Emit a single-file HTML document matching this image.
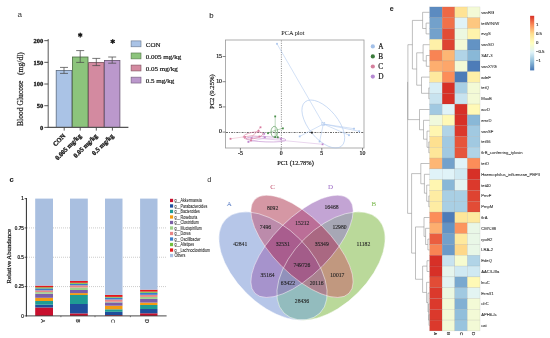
<!DOCTYPE html>
<html><head><meta charset="utf-8"><style>
html,body{margin:0;padding:0;background:#fff;}
svg{display:block;will-change:transform;}
</style></head><body>
<svg width="550" height="338" viewBox="0 0 550 338">
<defs><clipPath id="cpA"><ellipse cx="273.0" cy="266.0" rx="66.5" ry="38.0" transform="rotate(45 273.0 266.0)"  /></clipPath><clipPath id="cpB"><ellipse cx="331.0" cy="266.0" rx="66.5" ry="38.0" transform="rotate(-45 331.0 266.0)"  /></clipPath><clipPath id="cpC"><ellipse cx="302.0" cy="246.3" rx="66.5" ry="28.5" transform="rotate(45 302.0 246.3)"  /></clipPath><clipPath id="cpD"><ellipse cx="302.0" cy="246.3" rx="66.5" ry="28.5" transform="rotate(-45 302.0 246.3)"  /></clipPath></defs>
<rect width="550" height="338" fill="#fff"/>
<text x="17.60" y="17.30" font-family='"Liberation Sans", sans-serif' font-size="8" text-anchor="start" font-weight="normal" fill="#333" >a</text>
<rect x="56.20" y="70.40" width="15.60" height="57.00" fill="#aac3e6" stroke="#5d6b7e" stroke-width="0.8"/>
<rect x="72.40" y="57.00" width="15.60" height="70.40" fill="#8cc47c" stroke="#4d6b44" stroke-width="0.8"/>
<rect x="88.60" y="62.60" width="15.40" height="64.80" fill="#d38aa0" stroke="#744b58" stroke-width="0.8"/>
<rect x="104.50" y="60.40" width="15.40" height="67.00" fill="#bb98cc" stroke="#665370" stroke-width="0.8"/>
<line x1="64.00" y1="67.40" x2="64.00" y2="73.40" stroke="#4a4a4a" stroke-width="0.75" />
<line x1="60.00" y1="67.40" x2="68.00" y2="67.40" stroke="#4a4a4a" stroke-width="0.75" />
<line x1="60.00" y1="73.40" x2="68.00" y2="73.40" stroke="#4a4a4a" stroke-width="0.75" />
<line x1="80.20" y1="50.60" x2="80.20" y2="62.40" stroke="#4a4a4a" stroke-width="0.75" />
<line x1="76.20" y1="50.60" x2="84.20" y2="50.60" stroke="#4a4a4a" stroke-width="0.75" />
<line x1="76.20" y1="62.40" x2="84.20" y2="62.40" stroke="#4a4a4a" stroke-width="0.75" />
<line x1="96.30" y1="58.40" x2="96.30" y2="65.60" stroke="#4a4a4a" stroke-width="0.75" />
<line x1="92.30" y1="58.40" x2="100.30" y2="58.40" stroke="#4a4a4a" stroke-width="0.75" />
<line x1="92.30" y1="65.60" x2="100.30" y2="65.60" stroke="#4a4a4a" stroke-width="0.75" />
<line x1="112.20" y1="57.00" x2="112.20" y2="63.20" stroke="#4a4a4a" stroke-width="0.75" />
<line x1="108.20" y1="57.00" x2="116.20" y2="57.00" stroke="#4a4a4a" stroke-width="0.75" />
<line x1="108.20" y1="63.20" x2="116.20" y2="63.20" stroke="#4a4a4a" stroke-width="0.75" />
<line x1="48.20" y1="39.00" x2="48.20" y2="127.90" stroke="#666" stroke-width="1.1" />
<line x1="47.70" y1="127.40" x2="128.40" y2="127.40" stroke="#555" stroke-width="1.1" />
<line x1="44.30" y1="127.40" x2="48.20" y2="127.40" stroke="#444" stroke-width="0.9" />
<text x="43.30" y="129.60" font-family='"Liberation Serif", serif' font-size="6.5" text-anchor="end" font-weight="bold" fill="#1a1a1a" stroke="#1a1a1a" stroke-width="0.3" >0</text>
<line x1="44.30" y1="105.71" x2="48.20" y2="105.71" stroke="#444" stroke-width="0.9" />
<text x="43.30" y="107.91" font-family='"Liberation Serif", serif' font-size="6.5" text-anchor="end" font-weight="bold" fill="#1a1a1a" stroke="#1a1a1a" stroke-width="0.3" >50</text>
<line x1="44.30" y1="84.03" x2="48.20" y2="84.03" stroke="#444" stroke-width="0.9" />
<text x="43.30" y="86.23" font-family='"Liberation Serif", serif' font-size="6.5" text-anchor="end" font-weight="bold" fill="#1a1a1a" stroke="#1a1a1a" stroke-width="0.3" >100</text>
<line x1="44.30" y1="62.34" x2="48.20" y2="62.34" stroke="#444" stroke-width="0.9" />
<text x="43.30" y="64.54" font-family='"Liberation Serif", serif' font-size="6.5" text-anchor="end" font-weight="bold" fill="#1a1a1a" stroke="#1a1a1a" stroke-width="0.3" >150</text>
<line x1="44.30" y1="40.65" x2="48.20" y2="40.65" stroke="#444" stroke-width="0.9" />
<text x="43.30" y="42.85" font-family='"Liberation Serif", serif' font-size="6.5" text-anchor="end" font-weight="bold" fill="#1a1a1a" stroke="#1a1a1a" stroke-width="0.3" >200</text>
<line x1="64.20" y1="127.40" x2="64.20" y2="130.60" stroke="#444" stroke-width="0.9" />
<line x1="80.20" y1="127.40" x2="80.20" y2="130.60" stroke="#444" stroke-width="0.9" />
<line x1="96.30" y1="127.40" x2="96.30" y2="130.60" stroke="#444" stroke-width="0.9" />
<line x1="112.40" y1="127.40" x2="112.40" y2="130.60" stroke="#444" stroke-width="0.9" />
<text x="65.80" y="136.40" font-family='"Liberation Serif", serif' font-size="6.6" text-anchor="end" font-weight="bold" fill="#1a1a1a" stroke="#1a1a1a" stroke-width="0.3" transform="rotate(-45 65.8 136.4)" >CON</text>
<text x="81.80" y="136.40" font-family='"Liberation Serif", serif' font-size="6.6" text-anchor="end" font-weight="bold" fill="#1a1a1a" stroke="#1a1a1a" stroke-width="0.3" transform="rotate(-45 81.8 136.4)" >0.005 mg/kg</text>
<text x="97.90" y="136.40" font-family='"Liberation Serif", serif' font-size="6.6" text-anchor="end" font-weight="bold" fill="#1a1a1a" stroke="#1a1a1a" stroke-width="0.3" transform="rotate(-45 97.89999999999999 136.4)" >0.05 mg/kg</text>
<text x="114.00" y="136.40" font-family='"Liberation Serif", serif' font-size="6.6" text-anchor="end" font-weight="bold" fill="#1a1a1a" stroke="#1a1a1a" stroke-width="0.3" transform="rotate(-45 114.0 136.4)" >0.5 mg/kg</text>
<line x1="80.20" y1="33.20" x2="80.20" y2="37.00" stroke="#151515" stroke-width="1.25" stroke-linecap="round"/>
<line x1="78.55" y1="34.15" x2="81.85" y2="36.05" stroke="#151515" stroke-width="1.25" stroke-linecap="round"/>
<line x1="81.85" y1="34.15" x2="78.55" y2="36.05" stroke="#151515" stroke-width="1.25" stroke-linecap="round"/>
<line x1="112.70" y1="39.50" x2="112.70" y2="43.30" stroke="#151515" stroke-width="1.25" stroke-linecap="round"/>
<line x1="111.05" y1="40.45" x2="114.35" y2="42.35" stroke="#151515" stroke-width="1.25" stroke-linecap="round"/>
<line x1="114.35" y1="40.45" x2="111.05" y2="42.35" stroke="#151515" stroke-width="1.25" stroke-linecap="round"/>
<text x="23.30" y="89.10" font-family='"Liberation Serif", serif' font-size="7.6" text-anchor="middle" font-weight="normal" fill="#222" stroke="#222" stroke-width="0.22" transform="rotate(-90 23.3 89.1)" >Blood Glucose&#160;&#160;&#160;(mg/dl)</text>
<rect x="131.10" y="40.90" width="9.90" height="5.90" fill="#aac3e6" stroke="#66758a" stroke-width="0.6"/>
<text x="145.80" y="46.70" font-family='"Liberation Serif", serif' font-size="7.0" text-anchor="start" font-weight="normal" fill="#222" stroke="#222" stroke-width="0.22" >CON</text>
<rect x="131.10" y="52.98" width="9.90" height="5.90" fill="#8cc47c" stroke="#54754a" stroke-width="0.6"/>
<text x="145.80" y="58.78" font-family='"Liberation Serif", serif' font-size="7.0" text-anchor="start" font-weight="normal" fill="#222" stroke="#222" stroke-width="0.22" >0.005 mg/kg</text>
<rect x="131.10" y="65.06" width="9.90" height="5.90" fill="#d38aa0" stroke="#7e5260" stroke-width="0.6"/>
<text x="145.80" y="70.86" font-family='"Liberation Serif", serif' font-size="7.0" text-anchor="start" font-weight="normal" fill="#222" stroke="#222" stroke-width="0.22" >0.05 mg/kg</text>
<rect x="131.10" y="77.14" width="9.90" height="5.90" fill="#bb98cc" stroke="#705b7a" stroke-width="0.6"/>
<text x="145.80" y="82.94" font-family='"Liberation Serif", serif' font-size="7.0" text-anchor="start" font-weight="normal" fill="#222" stroke="#222" stroke-width="0.22" >0.5 mg/kg</text>
<text x="209.30" y="17.50" font-family='"Liberation Sans", sans-serif' font-size="7.8" text-anchor="start" font-weight="normal" fill="#222" stroke="#222" stroke-width="0.1" >b</text>
<rect x="225.5" y="40" width="138.5" height="108" fill="none" stroke="#999" stroke-width="0.8"/>
<text x="281.20" y="35.20" font-family='"Liberation Serif", serif' font-size="6.3" text-anchor="start" font-weight="normal" fill="#222" stroke="#222" stroke-width="0.05" >PCA plot</text>
<line x1="222.60" y1="132.10" x2="225.50" y2="132.10" stroke="#555" stroke-width="0.7" />
<text x="222.00" y="133.40" font-family='"Liberation Serif", serif' font-size="5.8" text-anchor="end" font-weight="normal" fill="#222" stroke="#222" stroke-width="0.22" >0</text>
<line x1="222.60" y1="106.90" x2="225.50" y2="106.90" stroke="#555" stroke-width="0.7" />
<text x="222.00" y="108.20" font-family='"Liberation Serif", serif' font-size="5.8" text-anchor="end" font-weight="normal" fill="#222" stroke="#222" stroke-width="0.22" >5</text>
<line x1="222.60" y1="81.70" x2="225.50" y2="81.70" stroke="#555" stroke-width="0.7" />
<text x="222.00" y="83.00" font-family='"Liberation Serif", serif' font-size="5.8" text-anchor="end" font-weight="normal" fill="#222" stroke="#222" stroke-width="0.22" >10</text>
<line x1="222.60" y1="56.50" x2="225.50" y2="56.50" stroke="#555" stroke-width="0.7" />
<text x="222.00" y="57.80" font-family='"Liberation Serif", serif' font-size="5.8" text-anchor="end" font-weight="normal" fill="#222" stroke="#222" stroke-width="0.22" >15</text>
<line x1="240.40" y1="148.00" x2="240.40" y2="150.60" stroke="#555" stroke-width="0.7" />
<text x="240.40" y="154.50" font-family='"Liberation Serif", serif' font-size="5.8" text-anchor="middle" font-weight="normal" fill="#222" stroke="#222" stroke-width="0.22" >-5</text>
<line x1="281.10" y1="148.00" x2="281.10" y2="150.60" stroke="#555" stroke-width="0.7" />
<text x="281.10" y="154.50" font-family='"Liberation Serif", serif' font-size="5.8" text-anchor="middle" font-weight="normal" fill="#222" stroke="#222" stroke-width="0.22" >0</text>
<line x1="321.80" y1="148.00" x2="321.80" y2="150.60" stroke="#555" stroke-width="0.7" />
<text x="321.80" y="154.50" font-family='"Liberation Serif", serif' font-size="5.8" text-anchor="middle" font-weight="normal" fill="#222" stroke="#222" stroke-width="0.22" >5</text>
<line x1="362.50" y1="148.00" x2="362.50" y2="150.60" stroke="#555" stroke-width="0.7" />
<text x="362.50" y="154.50" font-family='"Liberation Serif", serif' font-size="5.8" text-anchor="middle" font-weight="normal" fill="#222" stroke="#222" stroke-width="0.22" >10</text>
<text x="295.50" y="165.00" font-family='"Liberation Serif", serif' font-size="6.4" text-anchor="middle" font-weight="normal" fill="#222" stroke="#222" stroke-width="0.22" >PC1 (12.78%)</text>
<text x="214.40" y="91.60" font-family='"Liberation Serif", serif' font-size="6.7" text-anchor="middle" font-weight="normal" fill="#222" stroke="#222" stroke-width="0.22" transform="rotate(-90 214.4 91.6)" >PC2 (9.25%)</text>
<line x1="226.00" y1="132.50" x2="363.50" y2="132.50" stroke="#444" stroke-width="0.8" stroke-dasharray="2,1,1,1.2"/>
<line x1="281.40" y1="40.50" x2="281.40" y2="147.50" stroke="#666" stroke-width="0.75" stroke-dasharray="1,1.3"/>
<line x1="323.30" y1="124.00" x2="277.00" y2="43.80" stroke="#aec8ee" stroke-width="0.55" />
<line x1="323.30" y1="124.00" x2="354.00" y2="128.70" stroke="#aec8ee" stroke-width="0.55" />
<line x1="323.30" y1="124.00" x2="359.20" y2="131.30" stroke="#aec8ee" stroke-width="0.55" />
<line x1="323.30" y1="124.00" x2="349.00" y2="135.20" stroke="#aec8ee" stroke-width="0.55" />
<line x1="323.30" y1="124.00" x2="299.70" y2="136.40" stroke="#aec8ee" stroke-width="0.55" />
<line x1="323.30" y1="124.00" x2="319.60" y2="141.50" stroke="#aec8ee" stroke-width="0.55" />
<ellipse cx="323.3" cy="124.0" rx="28.65" ry="14.6" transform="rotate(50.6 323.3 124.0)" fill="none" stroke="#aec8ee" stroke-width="0.6"/>
<rect x="276.1" y="42.9" width="1.8" height="1.8" fill="#aec8ee"/>
<rect x="353.1" y="127.79999999999998" width="1.8" height="1.8" fill="#aec8ee"/>
<rect x="358.3" y="130.4" width="1.8" height="1.8" fill="#aec8ee"/>
<rect x="348.1" y="134.29999999999998" width="1.8" height="1.8" fill="#aec8ee"/>
<rect x="298.8" y="135.5" width="1.8" height="1.8" fill="#aec8ee"/>
<rect x="318.70000000000005" y="140.6" width="1.8" height="1.8" fill="#aec8ee"/>
<rect x="321.8" y="122.5" width="3" height="3" fill="none" stroke="#aec8ee" stroke-width="0.5"/>
<rect x="311" y="131.7" width="1.8" height="1.8" fill="#222"/>
<line x1="263.00" y1="138.60" x2="248.40" y2="141.90" stroke="#cfa6da" stroke-width="0.45" />
<line x1="263.00" y1="138.60" x2="251.50" y2="138.00" stroke="#cfa6da" stroke-width="0.45" />
<line x1="263.00" y1="138.60" x2="264.90" y2="137.30" stroke="#cfa6da" stroke-width="0.45" />
<line x1="263.00" y1="138.60" x2="264.20" y2="133.80" stroke="#cfa6da" stroke-width="0.45" />
<line x1="263.00" y1="138.60" x2="322.60" y2="144.30" stroke="#cfa6da" stroke-width="0.45" />
<line x1="263.00" y1="138.60" x2="281.00" y2="139.00" stroke="#cfa6da" stroke-width="0.45" />
<ellipse cx="266" cy="139.3" rx="20" ry="2.6" transform="rotate(2 266 139.3)" fill="none" stroke="#bf86cc" stroke-width="0.6"/>
<rect x="247.5" y="141.0" width="1.8" height="1.8" fill="#bf86cc"/>
<rect x="250.6" y="137.1" width="1.8" height="1.8" fill="#bf86cc"/>
<rect x="264.0" y="136.4" width="1.8" height="1.8" fill="#bf86cc"/>
<rect x="263.3" y="132.9" width="1.8" height="1.8" fill="#bf86cc"/>
<rect x="321.70000000000005" y="143.4" width="1.8" height="1.8" fill="#bf86cc"/>
<rect x="280.1" y="138.1" width="1.8" height="1.8" fill="#bf86cc"/>
<line x1="253.00" y1="135.50" x2="230.50" y2="138.80" stroke="#e4a0b8" stroke-width="0.45" />
<line x1="253.00" y1="135.50" x2="260.50" y2="127.30" stroke="#e4a0b8" stroke-width="0.45" />
<line x1="253.00" y1="135.50" x2="258.60" y2="130.80" stroke="#e4a0b8" stroke-width="0.45" />
<line x1="253.00" y1="135.50" x2="251.00" y2="140.40" stroke="#e4a0b8" stroke-width="0.45" />
<line x1="253.00" y1="135.50" x2="259.50" y2="136.50" stroke="#e4a0b8" stroke-width="0.45" />
<line x1="253.00" y1="135.50" x2="245.00" y2="137.00" stroke="#e4a0b8" stroke-width="0.45" />
<ellipse cx="253" cy="135.5" rx="10" ry="3.2" transform="rotate(-10 253 135.5)" fill="none" stroke="#d8779d" stroke-width="0.6"/>
<rect x="229.6" y="137.9" width="1.8" height="1.8" fill="#d8779d"/>
<rect x="259.6" y="126.39999999999999" width="1.8" height="1.8" fill="#d8779d"/>
<rect x="257.70000000000005" y="129.9" width="1.8" height="1.8" fill="#d8779d"/>
<rect x="250.1" y="139.5" width="1.8" height="1.8" fill="#d8779d"/>
<rect x="258.6" y="135.6" width="1.8" height="1.8" fill="#d8779d"/>
<rect x="244.1" y="136.1" width="1.8" height="1.8" fill="#d8779d"/>
<line x1="275.20" y1="130.30" x2="275.20" y2="116.40" stroke="#6aa86a" stroke-width="0.45" />
<line x1="275.20" y1="130.30" x2="282.90" y2="128.40" stroke="#6aa86a" stroke-width="0.45" />
<line x1="275.20" y1="130.30" x2="268.00" y2="133.20" stroke="#6aa86a" stroke-width="0.45" />
<line x1="275.20" y1="130.30" x2="275.20" y2="137.10" stroke="#6aa86a" stroke-width="0.45" />
<line x1="275.20" y1="130.30" x2="277.80" y2="137.30" stroke="#6aa86a" stroke-width="0.45" />
<ellipse cx="274.3" cy="131.8" rx="3.3" ry="5.4" fill="none" stroke="#4a8f4a" stroke-width="0.6"/>
<rect x="274.3" y="115.5" width="1.8" height="1.8" fill="#4a8f4a"/>
<rect x="282.0" y="127.5" width="1.8" height="1.8" fill="#4a8f4a"/>
<rect x="267.1" y="132.29999999999998" width="1.8" height="1.8" fill="#4a8f4a"/>
<rect x="274.3" y="136.2" width="1.8" height="1.8" fill="#4a8f4a"/>
<rect x="276.90000000000003" y="136.4" width="1.8" height="1.8" fill="#4a8f4a"/>
<circle cx="372.8" cy="46.40" r="2.1" fill="#a3c0e8"/>
<text x="378.20" y="49.00" font-family='"Liberation Serif", serif' font-size="7.3" text-anchor="start" font-weight="normal" fill="#222" stroke="#222" stroke-width="0.22" >A</text>
<circle cx="372.8" cy="56.45" r="2.1" fill="#3b7a3b"/>
<text x="378.20" y="59.05" font-family='"Liberation Serif", serif' font-size="7.3" text-anchor="start" font-weight="normal" fill="#222" stroke="#222" stroke-width="0.22" >B</text>
<circle cx="372.8" cy="66.50" r="2.1" fill="#d47f9c"/>
<text x="378.20" y="69.10" font-family='"Liberation Serif", serif' font-size="7.3" text-anchor="start" font-weight="normal" fill="#222" stroke="#222" stroke-width="0.22" >C</text>
<circle cx="372.8" cy="76.55" r="2.1" fill="#b68ad2"/>
<text x="378.20" y="79.15" font-family='"Liberation Serif", serif' font-size="7.3" text-anchor="start" font-weight="normal" fill="#222" stroke="#222" stroke-width="0.22" >D</text>
<text x="9.60" y="181.90" font-family='"Liberation Sans", sans-serif' font-size="7.5" text-anchor="start" font-weight="bold" fill="#222" stroke="#222" stroke-width="0.1" >c</text>
<line x1="27.00" y1="286.57" x2="166.60" y2="286.57" stroke="#aaa" stroke-width="0.6" stroke-dasharray="1,1"/>
<line x1="27.00" y1="257.25" x2="166.60" y2="257.25" stroke="#aaa" stroke-width="0.6" stroke-dasharray="1,1"/>
<line x1="27.00" y1="227.92" x2="166.60" y2="227.92" stroke="#aaa" stroke-width="0.6" stroke-dasharray="1,1"/>
<rect x="35.20" y="307.50" width="17.80" height="8.40" fill="#c8102e" />
<rect x="35.20" y="304.70" width="17.80" height="2.80" fill="#1f4e9c" />
<rect x="35.20" y="301.00" width="17.80" height="3.70" fill="#1f9c94" />
<rect x="35.20" y="297.80" width="17.80" height="3.20" fill="#f39c12" />
<rect x="35.20" y="293.70" width="17.80" height="4.10" fill="#7b5ea7" />
<rect x="35.20" y="292.10" width="17.80" height="1.60" fill="#9fd08a" />
<rect x="35.20" y="290.30" width="17.80" height="1.80" fill="#e98686" />
<rect x="35.20" y="288.40" width="17.80" height="1.90" fill="#3d7cc9" />
<rect x="35.20" y="287.30" width="17.80" height="1.10" fill="#74bf3f" />
<rect x="35.20" y="285.60" width="17.80" height="1.70" fill="#e31a1c" />
<rect x="35.20" y="198.60" width="17.80" height="87.00" fill="#a9bfe0" />
<rect x="70.00" y="313.40" width="17.80" height="2.50" fill="#c8102e" />
<rect x="70.00" y="304.00" width="17.80" height="9.40" fill="#1f4e9c" />
<rect x="70.00" y="295.00" width="17.80" height="9.00" fill="#1f9c94" />
<rect x="70.00" y="293.10" width="17.80" height="1.90" fill="#f39c12" />
<rect x="70.00" y="290.00" width="17.80" height="3.10" fill="#7b5ea7" />
<rect x="70.00" y="287.50" width="17.80" height="2.50" fill="#9fd08a" />
<rect x="70.00" y="285.30" width="17.80" height="2.20" fill="#e98686" />
<rect x="70.00" y="283.80" width="17.80" height="1.50" fill="#3d7cc9" />
<rect x="70.00" y="282.80" width="17.80" height="1.00" fill="#74bf3f" />
<rect x="70.00" y="281.00" width="17.80" height="1.80" fill="#e31a1c" />
<rect x="70.00" y="198.60" width="17.80" height="82.40" fill="#a9bfe0" />
<rect x="105.00" y="315.10" width="17.50" height="0.80" fill="#c8102e" />
<rect x="105.00" y="311.80" width="17.50" height="3.30" fill="#1f4e9c" />
<rect x="105.00" y="309.30" width="17.50" height="2.50" fill="#1f9c94" />
<rect x="105.00" y="305.70" width="17.50" height="3.60" fill="#f39c12" />
<rect x="105.00" y="302.40" width="17.50" height="3.30" fill="#7b5ea7" />
<rect x="105.00" y="301.80" width="17.50" height="0.60" fill="#9fd08a" />
<rect x="105.00" y="299.50" width="17.50" height="2.30" fill="#e98686" />
<rect x="105.00" y="297.60" width="17.50" height="1.90" fill="#3d7cc9" />
<rect x="105.00" y="296.90" width="17.50" height="0.70" fill="#74bf3f" />
<rect x="105.00" y="294.90" width="17.50" height="2.00" fill="#e31a1c" />
<rect x="105.00" y="198.60" width="17.50" height="96.30" fill="#a9bfe0" />
<rect x="140.10" y="313.30" width="17.40" height="2.60" fill="#c8102e" />
<rect x="140.10" y="309.00" width="17.40" height="4.30" fill="#1f4e9c" />
<rect x="140.10" y="305.00" width="17.40" height="4.00" fill="#1f9c94" />
<rect x="140.10" y="302.60" width="17.40" height="2.40" fill="#f39c12" />
<rect x="140.10" y="298.90" width="17.40" height="3.70" fill="#7b5ea7" />
<rect x="140.10" y="296.90" width="17.40" height="2.00" fill="#9fd08a" />
<rect x="140.10" y="294.80" width="17.40" height="2.10" fill="#e98686" />
<rect x="140.10" y="292.80" width="17.40" height="2.00" fill="#3d7cc9" />
<rect x="140.10" y="291.60" width="17.40" height="1.20" fill="#74bf3f" />
<rect x="140.10" y="289.70" width="17.40" height="1.90" fill="#e31a1c" />
<rect x="140.10" y="198.60" width="17.40" height="91.10" fill="#a9bfe0" />
<line x1="26.40" y1="198.00" x2="26.40" y2="316.40" stroke="#111" stroke-width="0.9" />
<line x1="26.00" y1="315.90" x2="166.60" y2="315.90" stroke="#333" stroke-width="0.9" />
<line x1="24.60" y1="315.90" x2="26.40" y2="315.90" stroke="#111" stroke-width="0.7" />
<text x="23.80" y="317.50" font-family='"Liberation Sans", sans-serif' font-size="4.6" text-anchor="end" font-weight="normal" fill="#111" stroke="#111" stroke-width="0.2" >0</text>
<line x1="24.60" y1="286.57" x2="26.40" y2="286.57" stroke="#111" stroke-width="0.7" />
<text x="23.80" y="288.18" font-family='"Liberation Sans", sans-serif' font-size="4.6" text-anchor="end" font-weight="normal" fill="#111" stroke="#111" stroke-width="0.2" >0.25</text>
<line x1="24.60" y1="257.25" x2="26.40" y2="257.25" stroke="#111" stroke-width="0.7" />
<text x="23.80" y="258.85" font-family='"Liberation Sans", sans-serif' font-size="4.6" text-anchor="end" font-weight="normal" fill="#111" stroke="#111" stroke-width="0.2" >0.5</text>
<line x1="24.60" y1="227.92" x2="26.40" y2="227.92" stroke="#111" stroke-width="0.7" />
<text x="23.80" y="229.52" font-family='"Liberation Sans", sans-serif' font-size="4.6" text-anchor="end" font-weight="normal" fill="#111" stroke="#111" stroke-width="0.2" >0.75</text>
<line x1="24.60" y1="198.60" x2="26.40" y2="198.60" stroke="#111" stroke-width="0.7" />
<text x="23.80" y="200.20" font-family='"Liberation Sans", sans-serif' font-size="4.6" text-anchor="end" font-weight="normal" fill="#111" stroke="#111" stroke-width="0.2" >1</text>
<line x1="60.90" y1="315.90" x2="60.90" y2="317.20" stroke="#333" stroke-width="0.6" />
<line x1="95.00" y1="315.90" x2="95.00" y2="317.20" stroke="#333" stroke-width="0.6" />
<line x1="130.40" y1="315.90" x2="130.40" y2="317.20" stroke="#333" stroke-width="0.6" />
<text x="41.30" y="321.00" font-family='"Liberation Sans", sans-serif' font-size="5.0" text-anchor="middle" font-weight="normal" fill="#222" stroke="#222" stroke-width="0.12" transform="rotate(90 41.3 321.0)" >A</text>
<text x="76.00" y="321.00" font-family='"Liberation Sans", sans-serif' font-size="5.0" text-anchor="middle" font-weight="normal" fill="#222" stroke="#222" stroke-width="0.12" transform="rotate(90 76.0 321.0)" >B</text>
<text x="110.90" y="321.00" font-family='"Liberation Sans", sans-serif' font-size="5.0" text-anchor="middle" font-weight="normal" fill="#222" stroke="#222" stroke-width="0.12" transform="rotate(90 110.9 321.0)" >C</text>
<text x="145.40" y="321.00" font-family='"Liberation Sans", sans-serif' font-size="5.0" text-anchor="middle" font-weight="normal" fill="#222" stroke="#222" stroke-width="0.12" transform="rotate(90 145.4 321.0)" >D</text>
<text x="10.60" y="256.20" font-family='"Liberation Serif", serif' font-size="6.75" text-anchor="middle" font-weight="normal" fill="#222" stroke="#222" stroke-width="0.22" transform="rotate(-90 10.6 256.2)" >Relative Abundance</text>
<rect x="170.00" y="198.80" width="3.10" height="3.30" fill="#c8102e" />
<text x="0.00" y="0.00" font-family='"Liberation Sans", sans-serif' font-size="4.6" text-anchor="start" font-weight="normal" fill="#222" stroke="#222" stroke-width="0.05" transform="translate(174.40 202.00) scale(0.8 1)" >g__Akkermansia</text>
<rect x="170.00" y="204.31" width="3.10" height="3.30" fill="#1f4e9c" />
<text x="0.00" y="0.00" font-family='"Liberation Sans", sans-serif' font-size="4.6" text-anchor="start" font-weight="normal" fill="#222" stroke="#222" stroke-width="0.05" transform="translate(174.40 207.51) scale(0.8 1)" >g__Parabacteroides</text>
<rect x="170.00" y="209.82" width="3.10" height="3.30" fill="#1f9c94" />
<text x="0.00" y="0.00" font-family='"Liberation Sans", sans-serif' font-size="4.6" text-anchor="start" font-weight="normal" fill="#222" stroke="#222" stroke-width="0.05" transform="translate(174.40 213.02) scale(0.8 1)" >g__Bacteroides</text>
<rect x="170.00" y="215.33" width="3.10" height="3.30" fill="#f39c12" />
<text x="0.00" y="0.00" font-family='"Liberation Sans", sans-serif' font-size="4.6" text-anchor="start" font-weight="normal" fill="#222" stroke="#222" stroke-width="0.05" transform="translate(174.40 218.53) scale(0.8 1)" >g__Roseburia</text>
<rect x="170.00" y="220.84" width="3.10" height="3.30" fill="#7b5ea7" />
<text x="0.00" y="0.00" font-family='"Liberation Sans", sans-serif' font-size="4.6" text-anchor="start" font-weight="normal" fill="#222" stroke="#222" stroke-width="0.05" transform="translate(174.40 224.04) scale(0.8 1)" >g__Clostridium</text>
<rect x="170.00" y="226.35" width="3.10" height="3.30" fill="#9fd08a" />
<text x="0.00" y="0.00" font-family='"Liberation Sans", sans-serif' font-size="4.6" text-anchor="start" font-weight="normal" fill="#222" stroke="#222" stroke-width="0.05" transform="translate(174.40 229.55) scale(0.8 1)" >g__Mucispirillum</text>
<rect x="170.00" y="231.86" width="3.10" height="3.30" fill="#e98686" />
<text x="0.00" y="0.00" font-family='"Liberation Sans", sans-serif' font-size="4.6" text-anchor="start" font-weight="normal" fill="#222" stroke="#222" stroke-width="0.05" transform="translate(174.40 235.06) scale(0.8 1)" >g__Dorea</text>
<rect x="170.00" y="237.37" width="3.10" height="3.30" fill="#3d7cc9" />
<text x="0.00" y="0.00" font-family='"Liberation Sans", sans-serif' font-size="4.6" text-anchor="start" font-weight="normal" fill="#222" stroke="#222" stroke-width="0.05" transform="translate(174.40 240.57) scale(0.8 1)" >g__Oscillibacter</text>
<rect x="170.00" y="242.88" width="3.10" height="3.30" fill="#74bf3f" />
<text x="0.00" y="0.00" font-family='"Liberation Sans", sans-serif' font-size="4.6" text-anchor="start" font-weight="normal" fill="#222" stroke="#222" stroke-width="0.05" transform="translate(174.40 246.08) scale(0.8 1)" >g__Alistipes</text>
<rect x="170.00" y="248.39" width="3.10" height="3.30" fill="#e31a1c" />
<text x="0.00" y="0.00" font-family='"Liberation Sans", sans-serif' font-size="4.6" text-anchor="start" font-weight="normal" fill="#222" stroke="#222" stroke-width="0.05" transform="translate(174.40 251.59) scale(0.8 1)" >g__Lachnoclostridium</text>
<rect x="170.00" y="253.90" width="3.10" height="3.30" fill="#a9bfe0" />
<text x="0.00" y="0.00" font-family='"Liberation Sans", sans-serif' font-size="4.6" text-anchor="start" font-weight="normal" fill="#222" stroke="#222" stroke-width="0.05" transform="translate(174.40 257.10) scale(0.8 1)" >Others</text>
<text x="207.20" y="182.00" font-family='"Liberation Sans", sans-serif' font-size="7.5" text-anchor="start" font-weight="normal" fill="#333" >d</text>
<ellipse cx="273.0" cy="266.0" rx="66.5" ry="38.0" transform="rotate(45 273.0 266.0)" fill="#b6c6e8" />
<ellipse cx="331.0" cy="266.0" rx="66.5" ry="38.0" transform="rotate(-45 331.0 266.0)" fill="#bad99a" />
<ellipse cx="302.0" cy="246.3" rx="66.5" ry="28.5" transform="rotate(45 302.0 246.3)" fill="#d597a4" />
<ellipse cx="302.0" cy="246.3" rx="66.5" ry="28.5" transform="rotate(-45 302.0 246.3)" fill="#c3a4d4" />
<g clip-path="url(#cpA)"><ellipse cx="331.0" cy="266.0" rx="66.5" ry="38.0" transform="rotate(-45 331.0 266.0)" fill="#93bcbe" /></g>
<g clip-path="url(#cpA)"><ellipse cx="302.0" cy="246.3" rx="66.5" ry="28.5" transform="rotate(45 302.0 246.3)" fill="#bc8bab" /></g>
<g clip-path="url(#cpA)"><ellipse cx="302.0" cy="246.3" rx="66.5" ry="28.5" transform="rotate(-45 302.0 246.3)" fill="#a693cc" /></g>
<g clip-path="url(#cpB)"><ellipse cx="302.0" cy="246.3" rx="66.5" ry="28.5" transform="rotate(45 302.0 246.3)" fill="#c1987f" /></g>
<g clip-path="url(#cpB)"><ellipse cx="302.0" cy="246.3" rx="66.5" ry="28.5" transform="rotate(-45 302.0 246.3)" fill="#a7a7b5" /></g>
<g clip-path="url(#cpC)"><ellipse cx="302.0" cy="246.3" rx="66.5" ry="28.5" transform="rotate(-45 302.0 246.3)" fill="#bb6e97" /></g>
<g clip-path="url(#cpB)"><g clip-path="url(#cpA)"><ellipse cx="302.0" cy="246.3" rx="66.5" ry="28.5" transform="rotate(45 302.0 246.3)" fill="#aa828f" /></g></g>
<g clip-path="url(#cpB)"><g clip-path="url(#cpA)"><ellipse cx="302.0" cy="246.3" rx="66.5" ry="28.5" transform="rotate(-45 302.0 246.3)" fill="#9191bb" /></g></g>
<g clip-path="url(#cpC)"><g clip-path="url(#cpA)"><ellipse cx="302.0" cy="246.3" rx="66.5" ry="28.5" transform="rotate(-45 302.0 246.3)" fill="#a95d8e" /></g></g>
<g clip-path="url(#cpC)"><g clip-path="url(#cpB)"><ellipse cx="302.0" cy="246.3" rx="66.5" ry="28.5" transform="rotate(-45 302.0 246.3)" fill="#aa6882" /></g></g>
<g clip-path="url(#cpC)"><g clip-path="url(#cpB)"><g clip-path="url(#cpA)"><ellipse cx="302.0" cy="246.3" rx="66.5" ry="28.5" transform="rotate(-45 302.0 246.3)" fill="#a35c89" /></g></g></g>
<ellipse cx="273.0" cy="266.0" rx="66.5" ry="38.0" transform="rotate(45 273.0 266.0)" fill="none" stroke="#fff" stroke-width="0.6" stroke-opacity="0.8"/>
<ellipse cx="331.0" cy="266.0" rx="66.5" ry="38.0" transform="rotate(-45 331.0 266.0)" fill="none" stroke="#fff" stroke-width="0.6" stroke-opacity="0.8"/>
<ellipse cx="302.0" cy="246.3" rx="66.5" ry="28.5" transform="rotate(45 302.0 246.3)" fill="none" stroke="#fff" stroke-width="0.6" stroke-opacity="0.8"/>
<ellipse cx="302.0" cy="246.3" rx="66.5" ry="28.5" transform="rotate(-45 302.0 246.3)" fill="none" stroke="#fff" stroke-width="0.6" stroke-opacity="0.8"/>
<text x="240.20" y="246.20" font-family='"Liberation Serif", serif' font-size="5.65" text-anchor="middle" font-weight="normal" fill="#222" stroke="#222" stroke-width="0.1" >42841</text>
<text x="272.60" y="210.20" font-family='"Liberation Serif", serif' font-size="5.65" text-anchor="middle" font-weight="normal" fill="#222" stroke="#222" stroke-width="0.1" >8092</text>
<text x="331.50" y="209.40" font-family='"Liberation Serif", serif' font-size="5.65" text-anchor="middle" font-weight="normal" fill="#222" stroke="#222" stroke-width="0.1" >16468</text>
<text x="363.40" y="246.20" font-family='"Liberation Serif", serif' font-size="5.65" text-anchor="middle" font-weight="normal" fill="#222" stroke="#222" stroke-width="0.1" >11182</text>
<text x="265.50" y="228.80" font-family='"Liberation Serif", serif' font-size="5.65" text-anchor="middle" font-weight="normal" fill="#222" stroke="#222" stroke-width="0.1" >7496</text>
<text x="302.30" y="224.90" font-family='"Liberation Serif", serif' font-size="5.65" text-anchor="middle" font-weight="normal" fill="#222" stroke="#222" stroke-width="0.1" >15212</text>
<text x="339.50" y="228.60" font-family='"Liberation Serif", serif' font-size="5.65" text-anchor="middle" font-weight="normal" fill="#222" stroke="#222" stroke-width="0.1" >12980</text>
<text x="282.70" y="246.20" font-family='"Liberation Serif", serif' font-size="5.65" text-anchor="middle" font-weight="normal" fill="#222" stroke="#222" stroke-width="0.1" >32531</text>
<text x="321.70" y="246.20" font-family='"Liberation Serif", serif' font-size="5.65" text-anchor="middle" font-weight="normal" fill="#222" stroke="#222" stroke-width="0.1" >35349</text>
<text x="301.90" y="267.40" font-family='"Liberation Serif", serif' font-size="5.65" text-anchor="middle" font-weight="normal" fill="#222" stroke="#222" stroke-width="0.1" >749726</text>
<text x="267.60" y="276.60" font-family='"Liberation Serif", serif' font-size="5.65" text-anchor="middle" font-weight="normal" fill="#222" stroke="#222" stroke-width="0.1" >35164</text>
<text x="337.30" y="276.60" font-family='"Liberation Serif", serif' font-size="5.65" text-anchor="middle" font-weight="normal" fill="#222" stroke="#222" stroke-width="0.1" >10017</text>
<text x="287.90" y="284.70" font-family='"Liberation Serif", serif' font-size="5.65" text-anchor="middle" font-weight="normal" fill="#222" stroke="#222" stroke-width="0.1" >63422</text>
<text x="316.60" y="284.70" font-family='"Liberation Serif", serif' font-size="5.65" text-anchor="middle" font-weight="normal" fill="#222" stroke="#222" stroke-width="0.1" >20116</text>
<text x="301.90" y="303.40" font-family='"Liberation Serif", serif' font-size="5.65" text-anchor="middle" font-weight="normal" fill="#222" stroke="#222" stroke-width="0.1" >28436</text>
<text x="229.30" y="205.80" font-family='"Liberation Serif", serif' font-size="7" text-anchor="middle" font-weight="normal" fill="#6a8acb" stroke="#6a8acb" stroke-width="0.05" >A</text>
<text x="373.80" y="205.80" font-family='"Liberation Serif", serif' font-size="7" text-anchor="middle" font-weight="normal" fill="#86bf5e" stroke="#86bf5e" stroke-width="0.05" >B</text>
<text x="272.50" y="189.20" font-family='"Liberation Serif", serif' font-size="7" text-anchor="middle" font-weight="normal" fill="#c2546f" stroke="#c2546f" stroke-width="0.05" >C</text>
<text x="330.50" y="189.20" font-family='"Liberation Serif", serif' font-size="7" text-anchor="middle" font-weight="normal" fill="#a070c8" stroke="#a070c8" stroke-width="0.05" >D</text>
<text x="389.80" y="11.30" font-family='"Liberation Sans", sans-serif' font-size="7" text-anchor="start" font-weight="bold" fill="#222" stroke="#222" stroke-width="0.1" >e</text>
<rect x="429.60" y="6.90" width="12.60" height="10.80" fill="#5c8bc0" stroke="#707070" stroke-opacity="0.3" stroke-width="0.35"/>
<rect x="442.20" y="6.90" width="12.60" height="10.80" fill="#ed6845" stroke="#707070" stroke-opacity="0.3" stroke-width="0.35"/>
<rect x="454.80" y="6.90" width="12.60" height="10.80" fill="#fee395" stroke="#707070" stroke-opacity="0.3" stroke-width="0.35"/>
<rect x="467.40" y="6.90" width="12.60" height="10.80" fill="#f3fad6" stroke="#707070" stroke-opacity="0.3" stroke-width="0.35"/>
<text x="481.20" y="13.80" font-family='"Liberation Sans", sans-serif' font-size="4.2" text-anchor="start" font-weight="normal" fill="#2a2a2a" stroke="#2a2a2a" stroke-width="0.06" >vanRG</text>
<rect x="429.60" y="17.70" width="12.60" height="10.80" fill="#73a1cb" stroke="#707070" stroke-opacity="0.3" stroke-width="0.35"/>
<rect x="442.20" y="17.70" width="12.60" height="10.80" fill="#f1714a" stroke="#707070" stroke-opacity="0.3" stroke-width="0.35"/>
<rect x="454.80" y="17.70" width="12.60" height="10.80" fill="#e0f3f8" stroke="#707070" stroke-opacity="0.3" stroke-width="0.35"/>
<rect x="467.40" y="17.70" width="12.60" height="10.80" fill="#fdc780" stroke="#707070" stroke-opacity="0.3" stroke-width="0.35"/>
<text x="481.20" y="24.60" font-family='"Liberation Sans", sans-serif' font-size="4.2" text-anchor="start" font-weight="normal" fill="#2a2a2a" stroke="#2a2a2a" stroke-width="0.06" >tetW/N/W</text>
<rect x="429.60" y="28.50" width="12.60" height="10.80" fill="#73a1cb" stroke="#707070" stroke-opacity="0.3" stroke-width="0.35"/>
<rect x="442.20" y="28.50" width="12.60" height="10.80" fill="#e24c36" stroke="#707070" stroke-opacity="0.3" stroke-width="0.35"/>
<rect x="454.80" y="28.50" width="12.60" height="10.80" fill="#ecf8e1" stroke="#707070" stroke-opacity="0.3" stroke-width="0.35"/>
<rect x="467.40" y="28.50" width="12.60" height="10.80" fill="#fff3ac" stroke="#707070" stroke-opacity="0.3" stroke-width="0.35"/>
<text x="481.20" y="35.40" font-family='"Liberation Sans", sans-serif' font-size="4.2" text-anchor="start" font-weight="normal" fill="#2a2a2a" stroke="#2a2a2a" stroke-width="0.06" >evgS</text>
<rect x="429.60" y="39.30" width="12.60" height="10.80" fill="#fef0a8" stroke="#707070" stroke-opacity="0.3" stroke-width="0.35"/>
<rect x="442.20" y="39.30" width="12.60" height="10.80" fill="#de4331" stroke="#707070" stroke-opacity="0.3" stroke-width="0.35"/>
<rect x="454.80" y="39.30" width="12.60" height="10.80" fill="#f3fad6" stroke="#707070" stroke-opacity="0.3" stroke-width="0.35"/>
<rect x="467.40" y="39.30" width="12.60" height="10.80" fill="#6393c4" stroke="#707070" stroke-opacity="0.3" stroke-width="0.35"/>
<text x="481.20" y="46.20" font-family='"Liberation Sans", sans-serif' font-size="4.2" text-anchor="start" font-weight="normal" fill="#2a2a2a" stroke="#2a2a2a" stroke-width="0.06" >vanSO</text>
<rect x="429.60" y="50.10" width="12.60" height="10.80" fill="#f88454" stroke="#707070" stroke-opacity="0.3" stroke-width="0.35"/>
<rect x="442.20" y="50.10" width="12.60" height="10.80" fill="#fdb674" stroke="#707070" stroke-opacity="0.3" stroke-width="0.35"/>
<rect x="454.80" y="50.10" width="12.60" height="10.80" fill="#b1d4e7" stroke="#707070" stroke-opacity="0.3" stroke-width="0.35"/>
<rect x="467.40" y="50.10" width="12.60" height="10.80" fill="#89b8d7" stroke="#707070" stroke-opacity="0.3" stroke-width="0.35"/>
<text x="481.20" y="57.00" font-family='"Liberation Sans", sans-serif' font-size="4.2" text-anchor="start" font-weight="normal" fill="#2a2a2a" stroke="#2a2a2a" stroke-width="0.06" >SAT-3</text>
<rect x="429.60" y="60.90" width="12.60" height="10.80" fill="#fdae6f" stroke="#707070" stroke-opacity="0.3" stroke-width="0.35"/>
<rect x="442.20" y="60.90" width="12.60" height="10.80" fill="#fda66a" stroke="#707070" stroke-opacity="0.3" stroke-width="0.35"/>
<rect x="454.80" y="60.90" width="12.60" height="10.80" fill="#f3fad6" stroke="#707070" stroke-opacity="0.3" stroke-width="0.35"/>
<rect x="467.40" y="60.90" width="12.60" height="10.80" fill="#4d7cb8" stroke="#707070" stroke-opacity="0.3" stroke-width="0.35"/>
<text x="481.20" y="67.80" font-family='"Liberation Sans", sans-serif' font-size="4.2" text-anchor="start" font-weight="normal" fill="#2a2a2a" stroke="#2a2a2a" stroke-width="0.06" >vanXYG</text>
<rect x="429.60" y="71.70" width="12.60" height="10.80" fill="#fee99e" stroke="#707070" stroke-opacity="0.3" stroke-width="0.35"/>
<rect x="442.20" y="71.70" width="12.60" height="10.80" fill="#fc8d59" stroke="#707070" stroke-opacity="0.3" stroke-width="0.35"/>
<rect x="454.80" y="71.70" width="12.60" height="10.80" fill="#4d7cb8" stroke="#707070" stroke-opacity="0.3" stroke-width="0.35"/>
<rect x="467.40" y="71.70" width="12.60" height="10.80" fill="#fef0a8" stroke="#707070" stroke-opacity="0.3" stroke-width="0.35"/>
<text x="481.20" y="78.60" font-family='"Liberation Sans", sans-serif' font-size="4.2" text-anchor="start" font-weight="normal" fill="#2a2a2a" stroke="#2a2a2a" stroke-width="0.06" >adeF</text>
<rect x="429.60" y="82.50" width="12.60" height="10.80" fill="#d8eef5" stroke="#707070" stroke-opacity="0.3" stroke-width="0.35"/>
<rect x="442.20" y="82.50" width="12.60" height="10.80" fill="#d73027" stroke="#707070" stroke-opacity="0.3" stroke-width="0.35"/>
<rect x="454.80" y="82.50" width="12.60" height="10.80" fill="#a9cfe4" stroke="#707070" stroke-opacity="0.3" stroke-width="0.35"/>
<rect x="467.40" y="82.50" width="12.60" height="10.80" fill="#f3fad6" stroke="#707070" stroke-opacity="0.3" stroke-width="0.35"/>
<text x="481.20" y="89.40" font-family='"Liberation Sans", sans-serif' font-size="4.2" text-anchor="start" font-weight="normal" fill="#2a2a2a" stroke="#2a2a2a" stroke-width="0.06" >tetQ</text>
<rect x="429.60" y="93.30" width="12.60" height="10.80" fill="#c8e3ef" stroke="#707070" stroke-opacity="0.3" stroke-width="0.35"/>
<rect x="442.20" y="93.30" width="12.60" height="10.80" fill="#d73027" stroke="#707070" stroke-opacity="0.3" stroke-width="0.35"/>
<rect x="454.80" y="93.30" width="12.60" height="10.80" fill="#c8e3ef" stroke="#707070" stroke-opacity="0.3" stroke-width="0.35"/>
<rect x="467.40" y="93.30" width="12.60" height="10.80" fill="#f3fad6" stroke="#707070" stroke-opacity="0.3" stroke-width="0.35"/>
<text x="481.20" y="100.20" font-family='"Liberation Sans", sans-serif' font-size="4.2" text-anchor="start" font-weight="normal" fill="#2a2a2a" stroke="#2a2a2a" stroke-width="0.06" >MuxB</text>
<rect x="429.60" y="104.10" width="12.60" height="10.80" fill="#a1c9e1" stroke="#707070" stroke-opacity="0.3" stroke-width="0.35"/>
<rect x="442.20" y="104.10" width="12.60" height="10.80" fill="#e0f3f8" stroke="#707070" stroke-opacity="0.3" stroke-width="0.35"/>
<rect x="454.80" y="104.10" width="12.60" height="10.80" fill="#d73027" stroke="#707070" stroke-opacity="0.3" stroke-width="0.35"/>
<rect x="467.40" y="104.10" width="12.60" height="10.80" fill="#fff9b6" stroke="#707070" stroke-opacity="0.3" stroke-width="0.35"/>
<text x="481.20" y="111.00" font-family='"Liberation Sans", sans-serif' font-size="4.2" text-anchor="start" font-weight="normal" fill="#2a2a2a" stroke="#2a2a2a" stroke-width="0.06" >acrD</text>
<rect x="429.60" y="114.90" width="12.60" height="10.80" fill="#f0f9dc" stroke="#707070" stroke-opacity="0.3" stroke-width="0.35"/>
<rect x="442.20" y="114.90" width="12.60" height="10.80" fill="#fff9b6" stroke="#707070" stroke-opacity="0.3" stroke-width="0.35"/>
<rect x="454.80" y="114.90" width="12.60" height="10.80" fill="#d73027" stroke="#707070" stroke-opacity="0.3" stroke-width="0.35"/>
<rect x="467.40" y="114.90" width="12.60" height="10.80" fill="#89b8d7" stroke="#707070" stroke-opacity="0.3" stroke-width="0.35"/>
<text x="481.20" y="121.80" font-family='"Liberation Sans", sans-serif' font-size="4.2" text-anchor="start" font-weight="normal" fill="#2a2a2a" stroke="#2a2a2a" stroke-width="0.06" >emrD</text>
<rect x="429.60" y="125.70" width="12.60" height="10.80" fill="#fff6b1" stroke="#707070" stroke-opacity="0.3" stroke-width="0.35"/>
<rect x="442.20" y="125.70" width="12.60" height="10.80" fill="#b1d4e7" stroke="#707070" stroke-opacity="0.3" stroke-width="0.35"/>
<rect x="454.80" y="125.70" width="12.60" height="10.80" fill="#db392c" stroke="#707070" stroke-opacity="0.3" stroke-width="0.35"/>
<rect x="467.40" y="125.70" width="12.60" height="10.80" fill="#a1c9e1" stroke="#707070" stroke-opacity="0.3" stroke-width="0.35"/>
<text x="481.20" y="132.60" font-family='"Liberation Sans", sans-serif' font-size="4.2" text-anchor="start" font-weight="normal" fill="#2a2a2a" stroke="#2a2a2a" stroke-width="0.06" >vanSF</text>
<rect x="429.60" y="136.50" width="12.60" height="10.80" fill="#fee090" stroke="#707070" stroke-opacity="0.3" stroke-width="0.35"/>
<rect x="442.20" y="136.50" width="12.60" height="10.80" fill="#a1c9e1" stroke="#707070" stroke-opacity="0.3" stroke-width="0.35"/>
<rect x="454.80" y="136.50" width="12.60" height="10.80" fill="#e6553b" stroke="#707070" stroke-opacity="0.3" stroke-width="0.35"/>
<rect x="467.40" y="136.50" width="12.60" height="10.80" fill="#a1c9e1" stroke="#707070" stroke-opacity="0.3" stroke-width="0.35"/>
<text x="481.20" y="143.40" font-family='"Liberation Sans", sans-serif' font-size="4.2" text-anchor="start" font-weight="normal" fill="#2a2a2a" stroke="#2a2a2a" stroke-width="0.06" >tet36</text>
<rect x="429.60" y="147.30" width="12.60" height="10.80" fill="#fee699" stroke="#707070" stroke-opacity="0.3" stroke-width="0.35"/>
<rect x="442.20" y="147.30" width="12.60" height="10.80" fill="#a1c9e1" stroke="#707070" stroke-opacity="0.3" stroke-width="0.35"/>
<rect x="454.80" y="147.30" width="12.60" height="10.80" fill="#e6553b" stroke="#707070" stroke-opacity="0.3" stroke-width="0.35"/>
<rect x="467.40" y="147.30" width="12.60" height="10.80" fill="#b1d4e7" stroke="#707070" stroke-opacity="0.3" stroke-width="0.35"/>
<text x="481.20" y="154.20" font-family='"Liberation Sans", sans-serif' font-size="4.2" text-anchor="start" font-weight="normal" fill="#2a2a2a" stroke="#2a2a2a" stroke-width="0.06" >tlrB_conferring_tylosin</text>
<rect x="429.60" y="158.10" width="12.60" height="10.80" fill="#fdb674" stroke="#707070" stroke-opacity="0.3" stroke-width="0.35"/>
<rect x="442.20" y="158.10" width="12.60" height="10.80" fill="#73a1cb" stroke="#707070" stroke-opacity="0.3" stroke-width="0.35"/>
<rect x="454.80" y="158.10" width="12.60" height="10.80" fill="#e0f3f8" stroke="#707070" stroke-opacity="0.3" stroke-width="0.35"/>
<rect x="467.40" y="158.10" width="12.60" height="10.80" fill="#fc8d59" stroke="#707070" stroke-opacity="0.3" stroke-width="0.35"/>
<text x="481.20" y="165.00" font-family='"Liberation Sans", sans-serif' font-size="4.2" text-anchor="start" font-weight="normal" fill="#2a2a2a" stroke="#2a2a2a" stroke-width="0.06" >tetO</text>
<rect x="429.60" y="168.90" width="12.60" height="10.80" fill="#e0f3f8" stroke="#707070" stroke-opacity="0.3" stroke-width="0.35"/>
<rect x="442.20" y="168.90" width="12.60" height="10.80" fill="#e0f3f8" stroke="#707070" stroke-opacity="0.3" stroke-width="0.35"/>
<rect x="454.80" y="168.90" width="12.60" height="10.80" fill="#d0e9f2" stroke="#707070" stroke-opacity="0.3" stroke-width="0.35"/>
<rect x="467.40" y="168.90" width="12.60" height="10.80" fill="#d73027" stroke="#707070" stroke-opacity="0.3" stroke-width="0.35"/>
<text x="481.20" y="175.80" font-family='"Liberation Sans", sans-serif' font-size="4.2" text-anchor="start" font-weight="normal" fill="#2a2a2a" stroke="#2a2a2a" stroke-width="0.06" >Haemophilus_influenzae_PBP3</text>
<rect x="429.60" y="179.70" width="12.60" height="10.80" fill="#fff6b1" stroke="#707070" stroke-opacity="0.3" stroke-width="0.35"/>
<rect x="442.20" y="179.70" width="12.60" height="10.80" fill="#89b8d7" stroke="#707070" stroke-opacity="0.3" stroke-width="0.35"/>
<rect x="454.80" y="179.70" width="12.60" height="10.80" fill="#e3f4f2" stroke="#707070" stroke-opacity="0.3" stroke-width="0.35"/>
<rect x="467.40" y="179.70" width="12.60" height="10.80" fill="#db392c" stroke="#707070" stroke-opacity="0.3" stroke-width="0.35"/>
<text x="481.20" y="186.60" font-family='"Liberation Sans", sans-serif' font-size="4.2" text-anchor="start" font-weight="normal" fill="#2a2a2a" stroke="#2a2a2a" stroke-width="0.06" >tet40</text>
<rect x="429.60" y="190.50" width="12.60" height="10.80" fill="#feeca3" stroke="#707070" stroke-opacity="0.3" stroke-width="0.35"/>
<rect x="442.20" y="190.50" width="12.60" height="10.80" fill="#a9cfe4" stroke="#707070" stroke-opacity="0.3" stroke-width="0.35"/>
<rect x="454.80" y="190.50" width="12.60" height="10.80" fill="#a9cfe4" stroke="#707070" stroke-opacity="0.3" stroke-width="0.35"/>
<rect x="467.40" y="190.50" width="12.60" height="10.80" fill="#de4331" stroke="#707070" stroke-opacity="0.3" stroke-width="0.35"/>
<text x="481.20" y="197.40" font-family='"Liberation Sans", sans-serif' font-size="4.2" text-anchor="start" font-weight="normal" fill="#2a2a2a" stroke="#2a2a2a" stroke-width="0.06" >PmrF</text>
<rect x="429.60" y="201.30" width="12.60" height="10.80" fill="#feeca3" stroke="#707070" stroke-opacity="0.3" stroke-width="0.35"/>
<rect x="442.20" y="201.30" width="12.60" height="10.80" fill="#a9cfe4" stroke="#707070" stroke-opacity="0.3" stroke-width="0.35"/>
<rect x="454.80" y="201.30" width="12.60" height="10.80" fill="#a9cfe4" stroke="#707070" stroke-opacity="0.3" stroke-width="0.35"/>
<rect x="467.40" y="201.30" width="12.60" height="10.80" fill="#e24c36" stroke="#707070" stroke-opacity="0.3" stroke-width="0.35"/>
<text x="481.20" y="208.20" font-family='"Liberation Sans", sans-serif' font-size="4.2" text-anchor="start" font-weight="normal" fill="#2a2a2a" stroke="#2a2a2a" stroke-width="0.06" >PmpM</text>
<rect x="429.60" y="212.10" width="12.60" height="10.80" fill="#fc8d59" stroke="#707070" stroke-opacity="0.3" stroke-width="0.35"/>
<rect x="442.20" y="212.10" width="12.60" height="10.80" fill="#4d7cb8" stroke="#707070" stroke-opacity="0.3" stroke-width="0.35"/>
<rect x="454.80" y="212.10" width="12.60" height="10.80" fill="#fee699" stroke="#707070" stroke-opacity="0.3" stroke-width="0.35"/>
<rect x="467.40" y="212.10" width="12.60" height="10.80" fill="#fee99e" stroke="#707070" stroke-opacity="0.3" stroke-width="0.35"/>
<text x="481.20" y="219.00" font-family='"Liberation Sans", sans-serif' font-size="4.2" text-anchor="start" font-weight="normal" fill="#2a2a2a" stroke="#2a2a2a" stroke-width="0.06" >tlrA</text>
<rect x="429.60" y="222.90" width="12.60" height="10.80" fill="#fdae6f" stroke="#707070" stroke-opacity="0.3" stroke-width="0.35"/>
<rect x="442.20" y="222.90" width="12.60" height="10.80" fill="#6393c4" stroke="#707070" stroke-opacity="0.3" stroke-width="0.35"/>
<rect x="454.80" y="222.90" width="12.60" height="10.80" fill="#fc955e" stroke="#707070" stroke-opacity="0.3" stroke-width="0.35"/>
<rect x="467.40" y="222.90" width="12.60" height="10.80" fill="#e9f7e7" stroke="#707070" stroke-opacity="0.3" stroke-width="0.35"/>
<text x="481.20" y="229.80" font-family='"Liberation Sans", sans-serif' font-size="4.2" text-anchor="start" font-weight="normal" fill="#2a2a2a" stroke="#2a2a2a" stroke-width="0.06" >CMY-98</text>
<rect x="429.60" y="233.70" width="12.60" height="10.80" fill="#ea5e40" stroke="#707070" stroke-opacity="0.3" stroke-width="0.35"/>
<rect x="442.20" y="233.70" width="12.60" height="10.80" fill="#73a1cb" stroke="#707070" stroke-opacity="0.3" stroke-width="0.35"/>
<rect x="454.80" y="233.70" width="12.60" height="10.80" fill="#fee99e" stroke="#707070" stroke-opacity="0.3" stroke-width="0.35"/>
<rect x="467.40" y="233.70" width="12.60" height="10.80" fill="#e9f7e7" stroke="#707070" stroke-opacity="0.3" stroke-width="0.35"/>
<text x="481.20" y="240.60" font-family='"Liberation Sans", sans-serif' font-size="4.2" text-anchor="start" font-weight="normal" fill="#2a2a2a" stroke="#2a2a2a" stroke-width="0.06" >rpoB2</text>
<rect x="429.60" y="244.50" width="12.60" height="10.80" fill="#f88454" stroke="#707070" stroke-opacity="0.3" stroke-width="0.35"/>
<rect x="442.20" y="244.50" width="12.60" height="10.80" fill="#6b9ac8" stroke="#707070" stroke-opacity="0.3" stroke-width="0.35"/>
<rect x="454.80" y="244.50" width="12.60" height="10.80" fill="#fed88a" stroke="#707070" stroke-opacity="0.3" stroke-width="0.35"/>
<rect x="467.40" y="244.50" width="12.60" height="10.80" fill="#e9f7e7" stroke="#707070" stroke-opacity="0.3" stroke-width="0.35"/>
<text x="481.20" y="251.40" font-family='"Liberation Sans", sans-serif' font-size="4.2" text-anchor="start" font-weight="normal" fill="#2a2a2a" stroke="#2a2a2a" stroke-width="0.06" >LRA-2</text>
<rect x="429.60" y="255.30" width="12.60" height="10.80" fill="#d73027" stroke="#707070" stroke-opacity="0.3" stroke-width="0.35"/>
<rect x="442.20" y="255.30" width="12.60" height="10.80" fill="#c8e3ef" stroke="#707070" stroke-opacity="0.3" stroke-width="0.35"/>
<rect x="454.80" y="255.30" width="12.60" height="10.80" fill="#f6fbd0" stroke="#707070" stroke-opacity="0.3" stroke-width="0.35"/>
<rect x="467.40" y="255.30" width="12.60" height="10.80" fill="#b1d4e7" stroke="#707070" stroke-opacity="0.3" stroke-width="0.35"/>
<text x="481.20" y="262.20" font-family='"Liberation Sans", sans-serif' font-size="4.2" text-anchor="start" font-weight="normal" fill="#2a2a2a" stroke="#2a2a2a" stroke-width="0.06" >EdeQ</text>
<rect x="429.60" y="266.10" width="12.60" height="10.80" fill="#d73027" stroke="#707070" stroke-opacity="0.3" stroke-width="0.35"/>
<rect x="442.20" y="266.10" width="12.60" height="10.80" fill="#e6f5ed" stroke="#707070" stroke-opacity="0.3" stroke-width="0.35"/>
<rect x="454.80" y="266.10" width="12.60" height="10.80" fill="#d0e9f2" stroke="#707070" stroke-opacity="0.3" stroke-width="0.35"/>
<rect x="467.40" y="266.10" width="12.60" height="10.80" fill="#d0e9f2" stroke="#707070" stroke-opacity="0.3" stroke-width="0.35"/>
<text x="481.20" y="273.00" font-family='"Liberation Sans", sans-serif' font-size="4.2" text-anchor="start" font-weight="normal" fill="#2a2a2a" stroke="#2a2a2a" stroke-width="0.06" >AAC3-IIIa</text>
<rect x="429.60" y="276.90" width="12.60" height="10.80" fill="#e24c36" stroke="#707070" stroke-opacity="0.3" stroke-width="0.35"/>
<rect x="442.20" y="276.90" width="12.60" height="10.80" fill="#e3f4f2" stroke="#707070" stroke-opacity="0.3" stroke-width="0.35"/>
<rect x="454.80" y="276.90" width="12.60" height="10.80" fill="#7aa9cf" stroke="#707070" stroke-opacity="0.3" stroke-width="0.35"/>
<rect x="467.40" y="276.90" width="12.60" height="10.80" fill="#fff9b6" stroke="#707070" stroke-opacity="0.3" stroke-width="0.35"/>
<text x="481.20" y="283.80" font-family='"Liberation Sans", sans-serif' font-size="4.2" text-anchor="start" font-weight="normal" fill="#2a2a2a" stroke="#2a2a2a" stroke-width="0.06" >lnuC</text>
<rect x="429.60" y="287.70" width="12.60" height="10.80" fill="#db392c" stroke="#707070" stroke-opacity="0.3" stroke-width="0.35"/>
<rect x="442.20" y="287.70" width="12.60" height="10.80" fill="#ecf8e1" stroke="#707070" stroke-opacity="0.3" stroke-width="0.35"/>
<rect x="454.80" y="287.70" width="12.60" height="10.80" fill="#a1c9e1" stroke="#707070" stroke-opacity="0.3" stroke-width="0.35"/>
<rect x="467.40" y="287.70" width="12.60" height="10.80" fill="#e3f4f2" stroke="#707070" stroke-opacity="0.3" stroke-width="0.35"/>
<text x="481.20" y="294.60" font-family='"Liberation Sans", sans-serif' font-size="4.2" text-anchor="start" font-weight="normal" fill="#2a2a2a" stroke="#2a2a2a" stroke-width="0.06" >Erm31</text>
<rect x="429.60" y="298.50" width="12.60" height="10.80" fill="#db392c" stroke="#707070" stroke-opacity="0.3" stroke-width="0.35"/>
<rect x="442.20" y="298.50" width="12.60" height="10.80" fill="#f3fad6" stroke="#707070" stroke-opacity="0.3" stroke-width="0.35"/>
<rect x="454.80" y="298.50" width="12.60" height="10.80" fill="#82b0d3" stroke="#707070" stroke-opacity="0.3" stroke-width="0.35"/>
<rect x="467.40" y="298.50" width="12.60" height="10.80" fill="#f3fad6" stroke="#707070" stroke-opacity="0.3" stroke-width="0.35"/>
<text x="481.20" y="305.40" font-family='"Liberation Sans", sans-serif' font-size="4.2" text-anchor="start" font-weight="normal" fill="#2a2a2a" stroke="#2a2a2a" stroke-width="0.06" >cfrC</text>
<rect x="429.60" y="309.30" width="12.60" height="10.80" fill="#db392c" stroke="#707070" stroke-opacity="0.3" stroke-width="0.35"/>
<rect x="442.20" y="309.30" width="12.60" height="10.80" fill="#f3fad6" stroke="#707070" stroke-opacity="0.3" stroke-width="0.35"/>
<rect x="454.80" y="309.30" width="12.60" height="10.80" fill="#91bfdb" stroke="#707070" stroke-opacity="0.3" stroke-width="0.35"/>
<rect x="467.40" y="309.30" width="12.60" height="10.80" fill="#f3fad6" stroke="#707070" stroke-opacity="0.3" stroke-width="0.35"/>
<text x="481.20" y="316.20" font-family='"Liberation Sans", sans-serif' font-size="4.2" text-anchor="start" font-weight="normal" fill="#2a2a2a" stroke="#2a2a2a" stroke-width="0.06" >APH6-Ic</text>
<rect x="429.60" y="320.10" width="12.60" height="10.80" fill="#db392c" stroke="#707070" stroke-opacity="0.3" stroke-width="0.35"/>
<rect x="442.20" y="320.10" width="12.60" height="10.80" fill="#f3fad6" stroke="#707070" stroke-opacity="0.3" stroke-width="0.35"/>
<rect x="454.80" y="320.10" width="12.60" height="10.80" fill="#99c4de" stroke="#707070" stroke-opacity="0.3" stroke-width="0.35"/>
<rect x="467.40" y="320.10" width="12.60" height="10.80" fill="#f3fad6" stroke="#707070" stroke-opacity="0.3" stroke-width="0.35"/>
<text x="481.20" y="327.00" font-family='"Liberation Sans", sans-serif' font-size="4.2" text-anchor="start" font-weight="normal" fill="#2a2a2a" stroke="#2a2a2a" stroke-width="0.06" >cat</text>
<text x="434.40" y="332.30" font-family='"Liberation Sans", sans-serif' font-size="4.2" text-anchor="start" font-weight="normal" fill="#222" stroke="#222" stroke-width="0.12" transform="rotate(90 434.40000000000003 332.3)" >A</text>
<text x="447.00" y="332.30" font-family='"Liberation Sans", sans-serif' font-size="4.2" text-anchor="start" font-weight="normal" fill="#222" stroke="#222" stroke-width="0.12" transform="rotate(90 447.0 332.3)" >B</text>
<text x="459.60" y="332.30" font-family='"Liberation Sans", sans-serif' font-size="4.2" text-anchor="start" font-weight="normal" fill="#222" stroke="#222" stroke-width="0.12" transform="rotate(90 459.6 332.3)" >C</text>
<text x="472.20" y="332.30" font-family='"Liberation Sans", sans-serif' font-size="4.2" text-anchor="start" font-weight="normal" fill="#222" stroke="#222" stroke-width="0.12" transform="rotate(90 472.20000000000005 332.3)" >D</text>
<line x1="407.60" y1="82.16" x2="407.60" y2="213.37" stroke="#8c8c8c" stroke-width="0.55" />
<line x1="407.60" y1="82.16" x2="407.90" y2="82.16" stroke="#8c8c8c" stroke-width="0.55" />
<line x1="407.60" y1="213.37" x2="411.60" y2="213.37" stroke="#8c8c8c" stroke-width="0.55" />
<line x1="407.90" y1="44.70" x2="407.90" y2="119.62" stroke="#8c8c8c" stroke-width="0.55" />
<line x1="407.90" y1="44.70" x2="412.40" y2="44.70" stroke="#8c8c8c" stroke-width="0.55" />
<line x1="407.90" y1="119.62" x2="419.50" y2="119.62" stroke="#8c8c8c" stroke-width="0.55" />
<line x1="412.40" y1="20.40" x2="412.40" y2="69.00" stroke="#8c8c8c" stroke-width="0.55" />
<line x1="412.40" y1="20.40" x2="422.60" y2="20.40" stroke="#8c8c8c" stroke-width="0.55" />
<line x1="412.40" y1="69.00" x2="416.70" y2="69.00" stroke="#8c8c8c" stroke-width="0.55" />
<line x1="422.60" y1="12.30" x2="422.60" y2="28.50" stroke="#8c8c8c" stroke-width="0.55" />
<line x1="422.60" y1="12.30" x2="429.60" y2="12.30" stroke="#8c8c8c" stroke-width="0.55" />
<line x1="422.60" y1="28.50" x2="426.10" y2="28.50" stroke="#8c8c8c" stroke-width="0.55" />
<line x1="426.10" y1="23.10" x2="426.10" y2="33.90" stroke="#8c8c8c" stroke-width="0.55" />
<line x1="426.10" y1="23.10" x2="429.60" y2="23.10" stroke="#8c8c8c" stroke-width="0.55" />
<line x1="426.10" y1="33.90" x2="429.60" y2="33.90" stroke="#8c8c8c" stroke-width="0.55" />
<line x1="416.70" y1="52.80" x2="416.70" y2="85.20" stroke="#8c8c8c" stroke-width="0.55" />
<line x1="416.70" y1="52.80" x2="423.10" y2="52.80" stroke="#8c8c8c" stroke-width="0.55" />
<line x1="416.70" y1="85.20" x2="421.50" y2="85.20" stroke="#8c8c8c" stroke-width="0.55" />
<line x1="423.10" y1="44.70" x2="423.10" y2="60.90" stroke="#8c8c8c" stroke-width="0.55" />
<line x1="423.10" y1="44.70" x2="429.60" y2="44.70" stroke="#8c8c8c" stroke-width="0.55" />
<line x1="423.10" y1="60.90" x2="426.30" y2="60.90" stroke="#8c8c8c" stroke-width="0.55" />
<line x1="426.30" y1="55.50" x2="426.30" y2="66.30" stroke="#8c8c8c" stroke-width="0.55" />
<line x1="426.30" y1="55.50" x2="429.60" y2="55.50" stroke="#8c8c8c" stroke-width="0.55" />
<line x1="426.30" y1="66.30" x2="429.60" y2="66.30" stroke="#8c8c8c" stroke-width="0.55" />
<line x1="421.50" y1="77.10" x2="421.50" y2="93.30" stroke="#8c8c8c" stroke-width="0.55" />
<line x1="421.50" y1="77.10" x2="429.60" y2="77.10" stroke="#8c8c8c" stroke-width="0.55" />
<line x1="421.50" y1="93.30" x2="428.80" y2="93.30" stroke="#8c8c8c" stroke-width="0.55" />
<line x1="428.80" y1="87.90" x2="428.80" y2="98.70" stroke="#8c8c8c" stroke-width="0.55" />
<line x1="428.80" y1="87.90" x2="429.60" y2="87.90" stroke="#8c8c8c" stroke-width="0.55" />
<line x1="428.80" y1="98.70" x2="429.60" y2="98.70" stroke="#8c8c8c" stroke-width="0.55" />
<line x1="419.50" y1="109.50" x2="419.50" y2="129.75" stroke="#8c8c8c" stroke-width="0.55" />
<line x1="419.50" y1="109.50" x2="429.60" y2="109.50" stroke="#8c8c8c" stroke-width="0.55" />
<line x1="419.50" y1="129.75" x2="423.50" y2="129.75" stroke="#8c8c8c" stroke-width="0.55" />
<line x1="423.50" y1="120.30" x2="423.50" y2="139.20" stroke="#8c8c8c" stroke-width="0.55" />
<line x1="423.50" y1="120.30" x2="429.60" y2="120.30" stroke="#8c8c8c" stroke-width="0.55" />
<line x1="423.50" y1="139.20" x2="427.00" y2="139.20" stroke="#8c8c8c" stroke-width="0.55" />
<line x1="427.00" y1="131.10" x2="427.00" y2="147.30" stroke="#8c8c8c" stroke-width="0.55" />
<line x1="427.00" y1="131.10" x2="429.60" y2="131.10" stroke="#8c8c8c" stroke-width="0.55" />
<line x1="427.00" y1="147.30" x2="428.80" y2="147.30" stroke="#8c8c8c" stroke-width="0.55" />
<line x1="428.80" y1="141.90" x2="428.80" y2="152.70" stroke="#8c8c8c" stroke-width="0.55" />
<line x1="428.80" y1="141.90" x2="429.60" y2="141.90" stroke="#8c8c8c" stroke-width="0.55" />
<line x1="428.80" y1="152.70" x2="429.60" y2="152.70" stroke="#8c8c8c" stroke-width="0.55" />
<line x1="411.60" y1="173.62" x2="411.60" y2="253.11" stroke="#8c8c8c" stroke-width="0.55" />
<line x1="411.60" y1="173.62" x2="420.80" y2="173.62" stroke="#8c8c8c" stroke-width="0.55" />
<line x1="411.60" y1="253.11" x2="415.50" y2="253.11" stroke="#8c8c8c" stroke-width="0.55" />
<line x1="420.80" y1="163.50" x2="420.80" y2="183.75" stroke="#8c8c8c" stroke-width="0.55" />
<line x1="420.80" y1="163.50" x2="429.60" y2="163.50" stroke="#8c8c8c" stroke-width="0.55" />
<line x1="420.80" y1="183.75" x2="424.40" y2="183.75" stroke="#8c8c8c" stroke-width="0.55" />
<line x1="424.40" y1="174.30" x2="424.40" y2="193.20" stroke="#8c8c8c" stroke-width="0.55" />
<line x1="424.40" y1="174.30" x2="429.60" y2="174.30" stroke="#8c8c8c" stroke-width="0.55" />
<line x1="424.40" y1="193.20" x2="426.70" y2="193.20" stroke="#8c8c8c" stroke-width="0.55" />
<line x1="426.70" y1="185.10" x2="426.70" y2="201.30" stroke="#8c8c8c" stroke-width="0.55" />
<line x1="426.70" y1="185.10" x2="429.60" y2="185.10" stroke="#8c8c8c" stroke-width="0.55" />
<line x1="426.70" y1="201.30" x2="428.80" y2="201.30" stroke="#8c8c8c" stroke-width="0.55" />
<line x1="428.80" y1="195.90" x2="428.80" y2="206.70" stroke="#8c8c8c" stroke-width="0.55" />
<line x1="428.80" y1="195.90" x2="429.60" y2="195.90" stroke="#8c8c8c" stroke-width="0.55" />
<line x1="428.80" y1="206.70" x2="429.60" y2="206.70" stroke="#8c8c8c" stroke-width="0.55" />
<line x1="415.50" y1="226.95" x2="415.50" y2="279.26" stroke="#8c8c8c" stroke-width="0.55" />
<line x1="415.50" y1="226.95" x2="424.00" y2="226.95" stroke="#8c8c8c" stroke-width="0.55" />
<line x1="415.50" y1="279.26" x2="422.60" y2="279.26" stroke="#8c8c8c" stroke-width="0.55" />
<line x1="424.00" y1="217.50" x2="424.00" y2="236.40" stroke="#8c8c8c" stroke-width="0.55" />
<line x1="424.00" y1="217.50" x2="429.60" y2="217.50" stroke="#8c8c8c" stroke-width="0.55" />
<line x1="424.00" y1="236.40" x2="425.60" y2="236.40" stroke="#8c8c8c" stroke-width="0.55" />
<line x1="425.60" y1="228.30" x2="425.60" y2="244.50" stroke="#8c8c8c" stroke-width="0.55" />
<line x1="425.60" y1="228.30" x2="429.60" y2="228.30" stroke="#8c8c8c" stroke-width="0.55" />
<line x1="425.60" y1="244.50" x2="427.90" y2="244.50" stroke="#8c8c8c" stroke-width="0.55" />
<line x1="427.90" y1="239.10" x2="427.90" y2="249.90" stroke="#8c8c8c" stroke-width="0.55" />
<line x1="427.90" y1="239.10" x2="429.60" y2="239.10" stroke="#8c8c8c" stroke-width="0.55" />
<line x1="427.90" y1="249.90" x2="429.60" y2="249.90" stroke="#8c8c8c" stroke-width="0.55" />
<line x1="422.60" y1="266.10" x2="422.60" y2="292.43" stroke="#8c8c8c" stroke-width="0.55" />
<line x1="422.60" y1="266.10" x2="427.00" y2="266.10" stroke="#8c8c8c" stroke-width="0.55" />
<line x1="422.60" y1="292.43" x2="426.60" y2="292.43" stroke="#8c8c8c" stroke-width="0.55" />
<line x1="427.00" y1="260.70" x2="427.00" y2="271.50" stroke="#8c8c8c" stroke-width="0.55" />
<line x1="427.00" y1="260.70" x2="429.60" y2="260.70" stroke="#8c8c8c" stroke-width="0.55" />
<line x1="427.00" y1="271.50" x2="429.60" y2="271.50" stroke="#8c8c8c" stroke-width="0.55" />
<line x1="426.60" y1="282.30" x2="426.60" y2="302.55" stroke="#8c8c8c" stroke-width="0.55" />
<line x1="426.60" y1="282.30" x2="429.60" y2="282.30" stroke="#8c8c8c" stroke-width="0.55" />
<line x1="426.60" y1="302.55" x2="428.00" y2="302.55" stroke="#8c8c8c" stroke-width="0.55" />
<line x1="428.00" y1="293.10" x2="428.00" y2="312.00" stroke="#8c8c8c" stroke-width="0.55" />
<line x1="428.00" y1="293.10" x2="429.60" y2="293.10" stroke="#8c8c8c" stroke-width="0.55" />
<line x1="428.00" y1="312.00" x2="428.60" y2="312.00" stroke="#8c8c8c" stroke-width="0.55" />
<line x1="428.60" y1="303.90" x2="428.60" y2="320.10" stroke="#8c8c8c" stroke-width="0.55" />
<line x1="428.60" y1="303.90" x2="429.60" y2="303.90" stroke="#8c8c8c" stroke-width="0.55" />
<line x1="428.60" y1="320.10" x2="429.00" y2="320.10" stroke="#8c8c8c" stroke-width="0.55" />
<line x1="429.00" y1="314.70" x2="429.00" y2="325.50" stroke="#8c8c8c" stroke-width="0.55" />
<line x1="429.00" y1="314.70" x2="429.60" y2="314.70" stroke="#8c8c8c" stroke-width="0.55" />
<line x1="429.00" y1="325.50" x2="429.60" y2="325.50" stroke="#8c8c8c" stroke-width="0.55" />
<!--g--><linearGradient id="hg" x1="0" y1="1" x2="0" y2="0"><stop offset="0.000" stop-color="#4575b4"/><stop offset="0.167" stop-color="#91bfdb"/><stop offset="0.333" stop-color="#e0f3f8"/><stop offset="0.500" stop-color="#ffffbf"/><stop offset="0.667" stop-color="#fee090"/><stop offset="0.833" stop-color="#fc8d59"/><stop offset="1.000" stop-color="#d73027"/></linearGradient>
<rect x="530.10" y="15.80" width="4.10" height="54.60" fill="url(#hg)" />
<text x="535.90" y="26.00" font-family='"Liberation Sans", sans-serif' font-size="4.3" text-anchor="start" font-weight="normal" fill="#222" stroke="#222" stroke-width="0.12" >1</text>
<text x="535.90" y="35.00" font-family='"Liberation Sans", sans-serif' font-size="4.3" text-anchor="start" font-weight="normal" fill="#222" stroke="#222" stroke-width="0.12" >0.5</text>
<text x="535.90" y="44.00" font-family='"Liberation Sans", sans-serif' font-size="4.3" text-anchor="start" font-weight="normal" fill="#222" stroke="#222" stroke-width="0.12" >0</text>
<text x="535.90" y="53.00" font-family='"Liberation Sans", sans-serif' font-size="4.3" text-anchor="start" font-weight="normal" fill="#222" stroke="#222" stroke-width="0.12" >−0.5</text>
<text x="535.90" y="62.00" font-family='"Liberation Sans", sans-serif' font-size="4.3" text-anchor="start" font-weight="normal" fill="#222" stroke="#222" stroke-width="0.12" >−1</text>
</svg>
</body></html>
